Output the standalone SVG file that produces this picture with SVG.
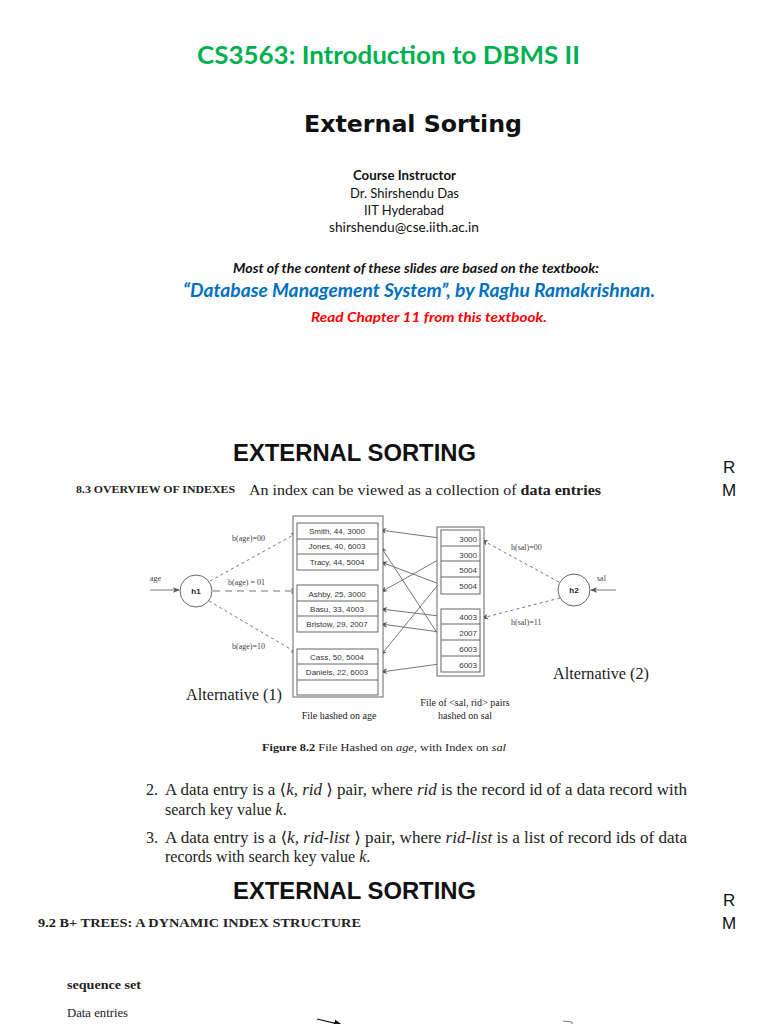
<svg xmlns="http://www.w3.org/2000/svg" width="768" height="1024" viewBox="0 0 768 1024">
<defs>
<marker id="ah" viewBox="0 0 10 10" refX="9" refY="5" markerWidth="7" markerHeight="7" orient="auto" markerUnits="userSpaceOnUse"><path d="M0,1 L10,5 L0,9 L3,5 z" fill="#555"/></marker>
<marker id="ahb" viewBox="0 0 10 10" refX="9" refY="5" markerWidth="9" markerHeight="9" orient="auto" markerUnits="userSpaceOnUse"><path d="M0,1 L10,5 L0,9 z" fill="#111"/></marker>
<style>
.cal{font-family:Lato,"Open Sans","Liberation Sans",sans-serif}
.ser{font-family:"Liberation Serif","DejaVu Serif",serif;fill:#222}
.san{font-family:"Liberation Sans",Arial,sans-serif;fill:#222}
.box{fill:#fff;stroke:#666;stroke-width:1}
.cell{font-family:"Liberation Sans",Arial,sans-serif;font-size:8px;fill:#333}
.lbl{font-family:"Liberation Serif",serif;font-size:8px;fill:#444}
.dash{fill:none;stroke:#777;stroke-width:1}
.solid{fill:none;stroke:#666;stroke-width:0.9}
.head{font-family:"Liberation Sans",Arial,sans-serif;font-weight:bold;font-size:23px;fill:#111}
.rm{font-family:"Liberation Sans",Arial,sans-serif;font-size:17px;fill:#111}
</style>
</defs>
<rect width="768" height="1024" fill="#fff"/>

<!-- Title slide -->
<text class="cal" x="197" y="64" font-size="25" font-weight="bold" fill="#00b050" textLength="383" lengthAdjust="spacingAndGlyphs">CS3563: Introduction to DBMS II</text>
<text x="304" y="132" font-family="'DejaVu Sans',sans-serif" font-size="23.5" font-weight="bold" fill="#111" textLength="218" lengthAdjust="spacingAndGlyphs">External Sorting</text>
<text class="cal" x="353" y="180" font-size="13.5" font-weight="bold" fill="#111" textLength="103" lengthAdjust="spacingAndGlyphs">Course Instructor</text>
<text class="cal" x="350" y="198" font-size="13.5" fill="#111" textLength="109" lengthAdjust="spacingAndGlyphs">Dr. Shirshendu Das</text>
<text class="cal" x="364" y="215" font-size="13.5" fill="#111" textLength="80" lengthAdjust="spacingAndGlyphs">IIT Hyderabad</text>
<text class="cal" x="329" y="232" font-size="13.5" fill="#111" textLength="150" lengthAdjust="spacingAndGlyphs">shirshendu@cse.iith.ac.in</text>
<text class="cal" x="233" y="273" font-size="13.5" font-weight="bold" font-style="italic" fill="#111" textLength="366" lengthAdjust="spacingAndGlyphs">Most of the content of these slides are based on the textbook:</text>
<text class="cal" x="183" y="297" font-size="18" font-weight="bold" font-style="italic" fill="#0070c0" textLength="472" lengthAdjust="spacingAndGlyphs">“Database Management System”, by Raghu Ramakrishnan.</text>
<text class="cal" x="311" y="322" font-size="13.5" font-weight="bold" font-style="italic" fill="#ff0000" textLength="236" lengthAdjust="spacingAndGlyphs">Read Chapter 11 from this textbook.</text>

<!-- Slide 2 -->
<text class="head" x="233" y="461" textLength="243" lengthAdjust="spacingAndGlyphs">EXTERNAL SORTING</text>
<text class="rm" x="723" y="473">R</text>
<text class="rm" x="722" y="496">M</text>
<text class="ser" x="76" y="493" font-size="10.5" font-weight="bold" fill="#111" textLength="159" lengthAdjust="spacingAndGlyphs">8.3   OVERVIEW OF INDEXES</text>
<text class="ser" x="249" y="495" font-size="15.5" textLength="352" lengthAdjust="spacingAndGlyphs">An index can be viewed as a collection of <tspan font-weight="bold">data entries</tspan></text>

<!-- Connectors -->
<g id="connectors">
<line class="solid" x1="150" y1="590" x2="179" y2="590" marker-end="url(#ah)"/>
<line class="solid" x1="616" y1="590" x2="591" y2="590" marker-end="url(#ah)"/>
<line class="dash" style="stroke-dasharray:3,3" x1="210" y1="581" x2="297" y2="533" marker-end="url(#ah)"/>
<line class="dash" style="stroke-dasharray:7,5" x1="213" y1="591" x2="297" y2="591" marker-end="url(#ah)"/>
<line class="dash" style="stroke-dasharray:3,3" x1="209" y1="601" x2="297" y2="653" marker-end="url(#ah)"/>
<line class="dash" style="stroke-dasharray:3,3" x1="559" y1="582" x2="482" y2="540" marker-end="url(#ah)"/>
<line class="dash" style="stroke-dasharray:3,3" x1="560" y1="598" x2="482" y2="618" marker-end="url(#ah)"/>
<line class="solid" x1="447" y1="539" x2="380" y2="530" marker-end="url(#ah)"/>
<line class="solid" x1="447" y1="555" x2="381" y2="592" marker-end="url(#ah)"/>
<line class="solid" x1="450" y1="570" x2="381" y2="655" marker-end="url(#ah)"/>
<line class="solid" x1="450" y1="588" x2="381" y2="562" marker-end="url(#ah)"/>
<line class="solid" x1="447" y1="617" x2="381" y2="609" marker-end="url(#ah)"/>
<line class="solid" x1="447" y1="633" x2="381" y2="624" marker-end="url(#ah)"/>
<line class="solid" x1="447" y1="648" x2="381" y2="547" marker-end="url(#ah)"/>
<line class="solid" x1="447" y1="663" x2="381" y2="672" marker-end="url(#ah)"/>
</g>

<g id="h1">
<circle cx="196" cy="591" r="16" fill="#fff" stroke="#666"/>
<text class="san" x="196" y="594" text-anchor="middle" font-size="8" font-weight="bold">h1</text>
</g>
<g id="h2">
<circle cx="574" cy="590" r="16" fill="#fff" stroke="#666"/>
<text class="san" x="574" y="593" text-anchor="middle" font-size="8" font-weight="bold">h2</text>
</g>

<g id="labels">
<text class="lbl" x="150" y="581">age</text>
<text class="lbl" x="232" y="541">b(age)=00</text>
<text class="lbl" x="228" y="585">b(age) = 01</text>
<text class="lbl" x="232" y="649">b(age)=10</text>
<text class="lbl" x="597" y="581">sal</text>
<text class="lbl" x="511" y="550">h(sal)=00</text>
<text class="lbl" x="511" y="625">h(sal)=11</text>
</g>

<g id="file-age">
<rect class="box" x="293" y="516" width="90" height="181"/>
<rect class="box" x="297" y="523" width="81" height="47"/>
<line x1="297" y1="539" x2="378" y2="539" stroke="#666"/>
<line x1="297" y1="554" x2="378" y2="554" stroke="#666"/>
<text class="cell" x="337" y="534" text-anchor="middle">Smith, 44, 3000</text>
<text class="cell" x="337" y="549" text-anchor="middle">Jones, 40, 6003</text>
<text class="cell" x="337" y="565" text-anchor="middle">Tracy, 44, 5004</text>
<rect class="box" x="297" y="585" width="81" height="47"/>
<line x1="297" y1="601" x2="378" y2="601" stroke="#666"/>
<line x1="297" y1="616" x2="378" y2="616" stroke="#666"/>
<text class="cell" x="337" y="597" text-anchor="middle">Ashby, 25, 3000</text>
<text class="cell" x="337" y="612" text-anchor="middle">Basu, 33, 4003</text>
<text class="cell" x="337" y="627" text-anchor="middle">Bristow, 29, 2007</text>
<rect class="box" x="297" y="649" width="81" height="46"/>
<line x1="297" y1="664" x2="378" y2="664" stroke="#666"/>
<line x1="297" y1="680" x2="378" y2="680" stroke="#666"/>
<text class="cell" x="337" y="660" text-anchor="middle">Cass, 50, 5004</text>
<text class="cell" x="337" y="675" text-anchor="middle">Daniels, 22, 6003</text>
</g>

<g id="file-sal">
<rect class="box" x="437" y="527" width="47" height="149"/>
<rect class="box" x="441" y="530" width="39" height="64"/>
<line x1="441" y1="546" x2="480" y2="546" stroke="#666"/>
<line x1="441" y1="561" x2="480" y2="561" stroke="#666"/>
<line x1="441" y1="577" x2="480" y2="577" stroke="#666"/>
<text class="cell" x="477" y="542" text-anchor="end">3000</text>
<text class="cell" x="477" y="558" text-anchor="end">3000</text>
<text class="cell" x="477" y="573" text-anchor="end">5004</text>
<text class="cell" x="477" y="589" text-anchor="end">5004</text>
<rect class="box" x="441" y="609" width="39" height="63"/>
<line x1="441" y1="624" x2="480" y2="624" stroke="#666"/>
<line x1="441" y1="640" x2="480" y2="640" stroke="#666"/>
<line x1="441" y1="656" x2="480" y2="656" stroke="#666"/>
<text class="cell" x="477" y="620" text-anchor="end">4003</text>
<text class="cell" x="477" y="636" text-anchor="end">2007</text>
<text class="cell" x="477" y="652" text-anchor="end">6003</text>
<text class="cell" x="477" y="668" text-anchor="end">6003</text>
</g>

<text class="ser" x="186" y="700" font-size="16" textLength="96" lengthAdjust="spacingAndGlyphs">Alternative (1)</text>
<text class="ser" x="553" y="679" font-size="16" textLength="96" lengthAdjust="spacingAndGlyphs">Alternative (2)</text>
<text class="ser" x="339" y="719" font-size="10" text-anchor="middle">File hashed on age</text>
<text class="ser" x="465" y="706" font-size="10" text-anchor="middle">File of &lt;sal, rid&gt; pairs</text>
<text class="ser" x="465" y="719" font-size="10" text-anchor="middle">hashed on sal</text>
<text class="ser" x="262" y="751" font-size="10" textLength="244" lengthAdjust="spacingAndGlyphs"><tspan font-weight="bold">Figure 8.2</tspan>   File Hashed on <tspan font-style="italic">age</tspan>, with Index on <tspan font-style="italic">sal</tspan></text>

<text class="ser" x="146" y="795" font-size="16">2.</text>
<text class="ser" x="165" y="795" font-size="16" textLength="522" lengthAdjust="spacingAndGlyphs">A data entry is a ⟨<tspan font-style="italic">k, rid</tspan> ⟩ pair, where <tspan font-style="italic">rid</tspan> is the record id of a data record with</text>
<text class="ser" x="165" y="815" font-size="16">search key value <tspan font-style="italic">k</tspan>.</text>
<text class="ser" x="146" y="843" font-size="16">3.</text>
<text class="ser" x="165" y="843" font-size="16" textLength="522" lengthAdjust="spacingAndGlyphs">A data entry is a ⟨<tspan font-style="italic">k, rid-list</tspan> ⟩ pair, where <tspan font-style="italic">rid-list</tspan> is a list of record ids of data</text>
<text class="ser" x="165" y="862" font-size="16">records with search key value <tspan font-style="italic">k</tspan>.</text>

<!-- Slide 3 -->
<text class="head" x="233" y="899" textLength="243" lengthAdjust="spacingAndGlyphs">EXTERNAL SORTING</text>
<text class="rm" x="723" y="906">R</text>
<text class="rm" x="722" y="929">M</text>
<text class="ser" x="38" y="927" font-size="13" font-weight="bold" fill="#111" textLength="323" lengthAdjust="spacingAndGlyphs">9.2    B+ TREES: A DYNAMIC INDEX STRUCTURE</text>
<text class="ser" x="67" y="989" font-size="12.5" font-weight="bold" fill="#111" textLength="74" lengthAdjust="spacingAndGlyphs">sequence  set</text>
<text class="ser" x="67" y="1017" font-size="12" fill="#111" textLength="61" lengthAdjust="spacingAndGlyphs">Data entries</text>
<line x1="317" y1="1019" x2="342" y2="1025" stroke="#111" stroke-width="1.2" marker-end="url(#ahb)"/>
<line x1="563" y1="1021" x2="572" y2="1022" stroke="#777" stroke-width="1"/>
<line x1="572" y1="1022" x2="572" y2="1024" stroke="#777" stroke-width="1"/>
</svg>
